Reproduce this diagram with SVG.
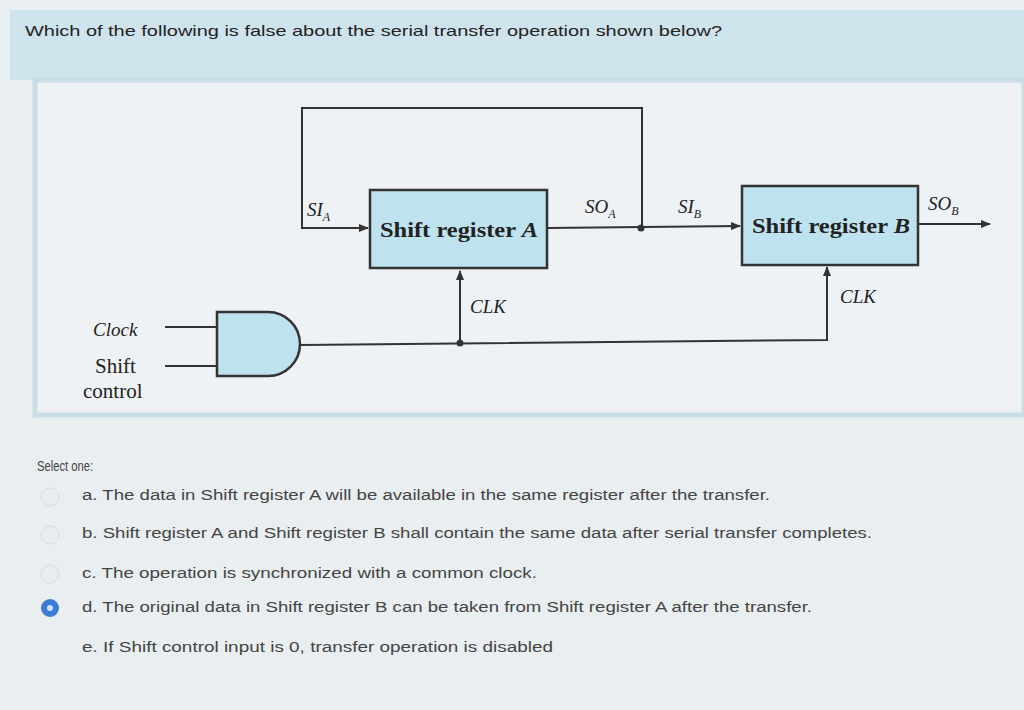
<svg xmlns="http://www.w3.org/2000/svg" width="1024" height="710" viewBox="0 0 1024 710">
<defs>
<style>
.w{fill:none;stroke:#333;stroke-width:2}
.box{fill:#bfe2ef;stroke:#333;stroke-width:2.5}
.lbl{font-family:"Liberation Serif",serif;font-style:italic;font-size:19px;fill:#222}
.bx{font-family:"Liberation Serif",serif;font-weight:bold;font-size:20px;fill:#222}
.sig{font-family:"Liberation Serif",serif;font-size:21px;fill:#222}
.q{font-family:"Liberation Sans",sans-serif;font-size:14px;fill:#444}
.r{fill:#e8eef0;stroke:#d4dde0}
</style>
<marker id="a" markerWidth="10" markerHeight="8" refX="9" refY="4" orient="auto" markerUnits="userSpaceOnUse"><path d="M0,0L10,4L0,8z" fill="#333"/></marker>
</defs>
<rect width="1024" height="710" fill="#e9eef0"/>
<rect x="10" y="10" width="1014" height="70" fill="#cfe3ec"/>
<rect x="35" y="80" width="989" height="335" fill="#eef2f4" stroke="#c8dde6" stroke-width="5"/>
<text x="25" y="36" class="q" style="font-size:15px;fill:#222" textLength="697" lengthAdjust="spacingAndGlyphs">Which of the following is false about the serial transfer operation shown below?</text>
<g id="connectors">
<polyline class="w" points="642,228 642,108 302,108 302,228 368,228" marker-end="url(#a)"/>
<polyline class="w" points="547,228 740,226" marker-end="url(#a)"/>
<polyline class="w" points="918,224 990,224" marker-end="url(#a)"/>
<polyline class="w" points="460,343 460,271" marker-end="url(#a)"/>
<polyline class="w" points="300,345 827,340 827,267" marker-end="url(#a)"/>
<line class="w" x1="165" y1="327" x2="217" y2="327"/>
<line class="w" x1="165" y1="366" x2="217" y2="366"/>
<circle cx="641" cy="228" r="3.5" fill="#333"/>
<circle cx="460" cy="343" r="3.5" fill="#333"/>
</g>
<g id="regA"><rect class="box" x="370" y="190" width="177" height="78"/><text x="380" y="237" class="bx" textLength="158" lengthAdjust="spacingAndGlyphs">Shift register <tspan font-style="italic">A</tspan></text></g>
<g id="regB"><rect class="box" x="742" y="186" width="176" height="79"/><text x="752" y="233" class="bx" textLength="158" lengthAdjust="spacingAndGlyphs">Shift register <tspan font-style="italic">B</tspan></text></g>
<g id="and"><path class="box" d="M217,312H268A32,32 0 0 1 268,376H217Z"/></g>
<g id="labels">
<text x="307" y="216" class="lbl">SI<tspan font-size="12" dy="5">A</tspan></text>
<text x="585" y="213" class="lbl">SO<tspan font-size="12" dy="5">A</tspan></text>
<text x="678" y="213" class="lbl">SI<tspan font-size="12" dy="5">B</tspan></text>
<text x="928" y="210" class="lbl">SO<tspan font-size="12" dy="5">B</tspan></text>
<text x="470" y="313" class="lbl">CLK</text>
<text x="840" y="303" class="lbl">CLK</text>
<text x="93" y="336" class="lbl">Clock</text>
<text x="95" y="373" class="sig" font-size="20">Shift</text>
<text x="83" y="398" class="sig" font-size="20">control</text>
</g>
<g id="options">
<text x="37" y="471" class="q" textLength="56" lengthAdjust="spacingAndGlyphs">Select one:</text>
<circle cx="50" cy="497" r="9" class="r"/><text x="82" y="500" class="q" textLength="688" lengthAdjust="spacingAndGlyphs">a. The data in Shift register A will be available in the same register after the transfer.</text>
<circle cx="50" cy="535" r="9" class="r"/><text x="82" y="538" class="q" textLength="790" lengthAdjust="spacingAndGlyphs">b. Shift register A and Shift register B shall contain the same data after serial transfer completes.</text>
<circle cx="50" cy="574" r="9" class="r"/><text x="82" y="578" class="q" textLength="455" lengthAdjust="spacingAndGlyphs">c. The operation is synchronized with a common clock.</text>
<circle cx="50" cy="608" r="9" fill="#3a7bd5"/><circle cx="50" cy="608" r="3" fill="#cfe0f7"/><text x="82" y="612" class="q" textLength="730" lengthAdjust="spacingAndGlyphs">d. The original data in Shift register B can be taken from Shift register A after the transfer.</text>
<text x="82" y="652" class="q" textLength="471" lengthAdjust="spacingAndGlyphs">e. If Shift control input is 0, transfer operation is disabled</text>
</g>
</svg>
